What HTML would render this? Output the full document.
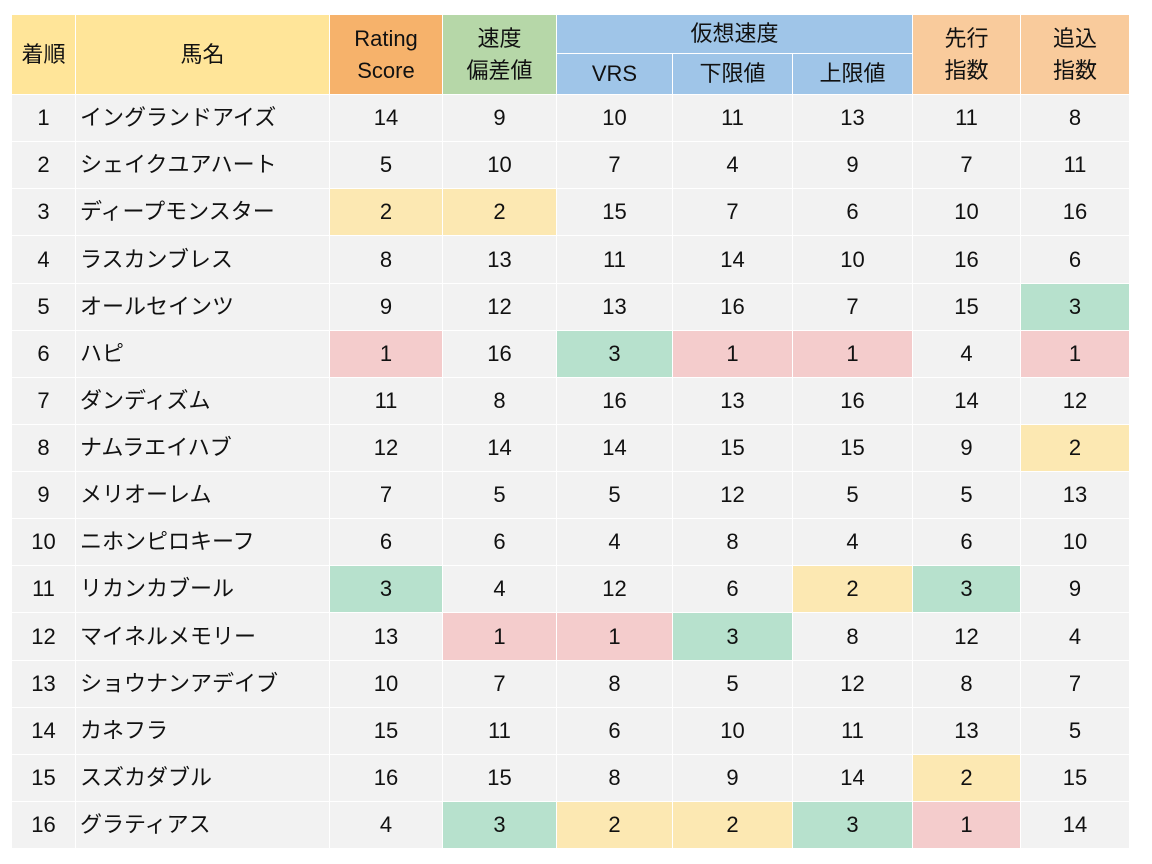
<!DOCTYPE html>
<html><head><meta charset="utf-8">
<style>
body{margin:0;background:#fff;width:1152px;height:864px;position:relative;overflow:hidden;font-family:"Liberation Sans","Noto Sans CJK JP",sans-serif;color:#111}
.c{position:absolute;box-sizing:border-box;display:flex;align-items:center;justify-content:center;font-size:22px;border-right:1.5px solid #fff;border-bottom:1.5px solid #fff;text-align:center;line-height:32px}
</style></head><body>
<div id="t"></div>
<script>
const ranks=[1,2,3,4,5,6,7,8,9,10,11,12,13,14,15,16];
const names=["イングランドアイズ","シェイクユアハート","ディープモンスター","ラスカンブレス","オールセインツ","ハピ","ダンディズム","ナムラエイハブ","メリオーレム","ニホンピロキーフ","リカンカブール","マイネルメモリー","ショウナンアデイブ","カネフラ","スズカダブル","グラティアス"];
const ratingScore=[14,5,2,8,9,1,11,12,7,6,3,13,10,15,16,4];
const speedDev=[9,10,2,13,12,16,8,14,5,6,4,1,7,11,15,3];
const vrs=[10,7,15,11,13,3,16,14,5,4,12,1,8,6,8,2];
const lowerLimit=[11,4,7,14,16,1,13,15,12,8,6,3,5,10,9,2];
const upperLimit=[13,9,6,10,7,1,16,15,5,4,2,8,12,11,14,3];
const senkou=[11,7,10,16,15,4,14,9,5,6,3,12,8,13,2,1];
const oikomi=[8,11,16,6,3,1,12,2,13,10,9,4,7,5,15,14];
const X=[12,76,330,443,557,673,793,913,1021,1130];
const T=document.getElementById('t');
function cell(x0,x1,y0,y1,bg,html,name,extra){
  const d=document.createElement('div');
  d.className='c';
  d.style.left=x0+'px';d.style.top=y0+'px';d.style.width=(x1-x0)+'px';d.style.height=(y1-y0)+'px';
  d.style.background=bg;d.innerHTML=html;
  if(extra)Object.assign(d.style,extra);
  
  
  T.appendChild(d);return d;
}
const Y0=15,YM=54,YH=95,RH=47.125;
cell(X[0],X[1],Y0,YH,'#ffe599','着順','header-rank');
cell(X[1],X[2],Y0,YH,'#ffe599','馬名','header-horse-name');
cell(X[2],X[3],Y0,YH,'#f6b26b','Rating<br>Score','header-rating-score');
cell(X[3],X[4],Y0,YH,'#b6d7a8','速度<br>偏差値','header-speed-deviation');
cell(X[4],X[7],Y0,YM,'#9fc5e8','仮想速度','header-virtual-speed');
cell(X[4],X[5],YM,YH,'#9fc5e8','VRS','header-vrs');
cell(X[5],X[6],YM,YH,'#9fc5e8','下限値','header-lower-limit');
cell(X[6],X[7],YM,YH,'#9fc5e8','上限値','header-upper-limit');
cell(X[7],X[8],Y0,YH,'#f9cb9c','先行<br>指数','header-senkou-index');
cell(X[8],X[9],Y0,YH,'#f9cb9c','追込<br>指数','header-oikomi-index');
const cols=[ratingScore,speedDev,vrs,lowerLimit,upperLimit,senkou,oikomi];
const colNames=['rating-score','speed-deviation','vrs','lower-limit','upper-limit','senkou-index','oikomi-index'];
function hl(v){return v===1?'#f4cccc':v===2?'#fce8b2':v===3?'#b7e1cd':'#f2f2f2';}
for(let i=0;i<ranks.length;i++){
  const y0=Math.round(YH+i*RH),y1=Math.round(YH+(i+1)*RH);
  cell(X[0],X[1],y0,y1,'#f2f2f2',String(ranks[i]),'rank-cell');
  cell(X[1],X[2],y0,y1,'#f2f2f2',names[i],'horse-name-cell',{justifyContent:'flex-start',paddingLeft:'4px'});
  for(let c=0;c<cols.length;c++){
    const v=cols[c][i];
    cell(X[2+c],X[3+c],y0,y1,hl(v),String(v),colNames[c]+'-cell');
  }
}
</script>
</body></html>
